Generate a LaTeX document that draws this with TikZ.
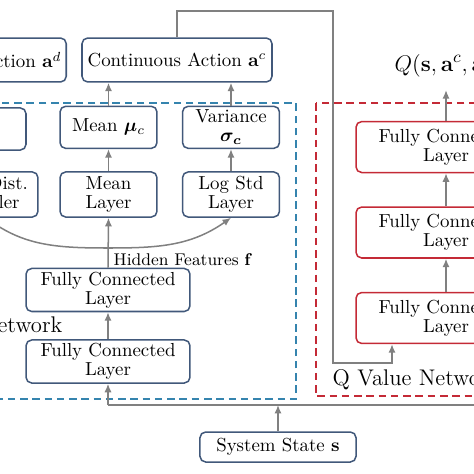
\documentclass[tikz,border=0pt]{standalone}
\usepackage{amsmath,bm}
\usepackage{xcolor}
\usetikzlibrary{arrows.meta, positioning, calc}
\definecolor{boxblue}{HTML}{41587A}
\definecolor{netblue}{HTML}{3584AE}
\definecolor{netred}{HTML}{C42A36}
\definecolor{arrgray}{HTML}{808080}

\begin{document}
\begin{tikzpicture}[x=0.53pt, y=-0.53pt,
    box/.style={draw=boxblue, line width=0.8pt, rounded corners=3pt, align=center,
        font=\fontsize{10pt}{10pt}\selectfont, inner ysep=1pt, inner xsep=2.5pt},
    fcbox/.style={box, minimum width=86.9pt, minimum height=22.8pt},
    outbox/.style={box, minimum width=51.4pt, minimum height=22.3pt},
    layerbox/.style={box, minimum width=51.4pt, minimum height=23.9pt},
    qbox/.style={box, draw=netred, minimum width=95.4pt, minimum height=27pt},
    arr/.style={draw=arrgray, line width=0.8pt, -{Latex[length=4.5pt, width=3.8pt]}},
    net/.style={dash pattern=on 4pt off 2.5pt, line width=0.8pt},
    netlabel/.style={font=\fontsize{12pt}{14pt}\selectfont}]
    \path[use as bounding box, clip] (0,0) rectangle (474,474);

    % policy network
    \draw[net, draw=netblue] (-150,103) rectangle (296,399);
    \node[netlabel, anchor=east] (pnet) at (69,327) {Policy Network};
    \node[fcbox] (fc1) at (108,361.5) {Fully Connected\\Layer};
    \node[fcbox, above=14.3pt of fc1] (fc2) {Fully Connected\\Layer};
    \node[layerbox] (meanl) at (108.5,194.5) {Mean\\Layer};
    \node[layerbox] (logstd) at (231,194.5) {Log Std\\Layer};
    \node[box, minimum width=55.1pt, minimum height=23.9pt] (dist) at (-14,194.5) {Cat. Dist.\\Sampler};
    \node[outbox, above=11.7pt of meanl] (mu) {Mean $\boldsymbol{\mu}_c$};
    \node[outbox, above=11.7pt of logstd] (var) {Variance\\$\boldsymbol{\sigma_c}$};
    \node[outbox, minimum width=79.5pt] (prob) at (-49,129) {Prob. $\mathbf{p}$};

    % actions
    \node[box, minimum height=23.3pt, anchor=east] (disc) at (67,60) {Discrete Action $\mathbf{a}^d$};
    \node[box, minimum width=100.7pt, minimum height=23.3pt] (cont) at (177,60) {Continuous Action $\mathbf{a}^c$};

    % q value network
    \draw[net, draw=netred] (316,103) rectangle (600,396);
    \node[netlabel, anchor=west] (qnet) at (326,380) {Q Value Network};
    \node[qbox] (qfc1) at (446,318) {Fully Connected\\Layer};
    \node[qbox, above=17.5pt of qfc1] (qfc2) {Fully Connected\\Layer};
    \node[qbox, above=17.5pt of qfc2] (qfc3) {Fully Connected\\Layer};
    \node[anchor=west, font=\fontsize{12.5pt}{15pt}\selectfont] (qv) at (388,64) {$Q(\mathbf{s},\mathbf{a}^c,\mathbf{a}^d)$};

    % state
    \node[box, minimum width=82.7pt, minimum height=15.9pt] (ss) at (278,447) {System State $\mathbf{s}$};
    \coordinate (busl) at (108,405);
    \coordinate (busr) at (500,405);
    \coordinate (hf) at (108,248);
    \coordinate (acin) at (392,363);

    % connectors
    \draw[arr] (ss.north) -- (ss.north |- busl);
    \draw[draw=arrgray, line width=0.8pt] (busl) -- (busr);
    \draw[arr] (busl) -- (fc1.south);
    \draw[arr] (busr) -- (busr |- qfc1.south);
    \draw[arr] (fc1.north) -- (fc2.south);
    \draw[arr] (fc2.north) -- (meanl.south);
    \node[anchor=west, font=\small] (hflabel) at (107,260) {Hidden Features $\mathbf{f}$};
    \draw[arr] (hf) to[out=0, in=215] (logstd.south);
    \draw[arr] (hf) to[out=180, in=-35] (dist.south);
    \draw[arr] (meanl.north) -- (mu.south);
    \draw[arr] (logstd.north) -- (var.south);
    \draw[arr] (dist.north) -- (dist.north |- prob.south);
    \draw[arr] (mu.north) -- (mu.north |- cont.south);
    \draw[arr] (var.north) -- (var.north |- cont.south);
    \draw[arr] (prob.north) -- (prob.north |- disc.south);
    \draw[arr] (cont.north) |- (333,11) |- (acin) -- (acin |- qfc1.south);
    \draw[arr] (qfc1.north) -- (qfc2.south);
    \draw[arr] (qfc2.north) -- (qfc3.south);
    \draw[arr, shorten >=3.5pt] (qfc3.north) -- (qfc3.north |- qv.south);
\end{tikzpicture}
\end{document}
